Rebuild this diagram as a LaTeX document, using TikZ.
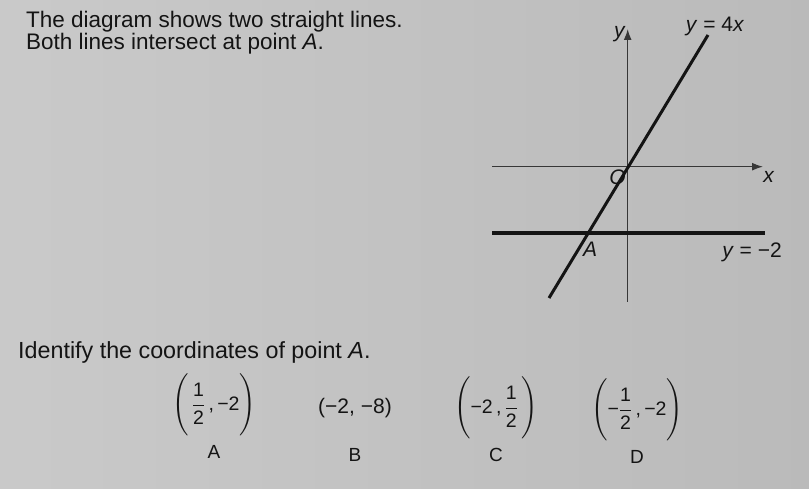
\documentclass[tikz,border=0pt]{standalone}
\usepackage{amsmath}
\usepackage{fontspec}
\setmainfont{Liberation Sans}
\usetikzlibrary{arrows.meta}
\definecolor{ink}{HTML}{141414}
\tikzstyle{every node}=[inner sep=0pt,text=ink]
\tikzstyle{axis}=[draw=ink!85,
                  line width=1.4pt
                  ]
\tikzstyle{graphline}=[draw=ink,
                       line width=3pt
                       ]
\tikzstyle{label}=[anchor=base,
                   font=\fontsize{21}{25}\selectfont
                   ]
\tikzstyle{question}=[anchor=base west,
                      font=\fontsize{22.5}{27}\selectfont
                      ]
\tikzstyle{answer}=[font=\fontsize{19.5}{24}\selectfont]
\tikzstyle{letter}=[font=\fontsize{19}{23}\selectfont]

\begin{document}
\begin{tikzpicture}[x=1pt,y=1pt,node distance=141pt,>={Latex[length=11pt,width=8pt]}]
\useasboundingbox (0,0) rectangle (809,488);
\shade[left color=black!21,middle color=black!8,right color=black!27] (0,0) rectangle (809,488);

% question text
\node (Line_1) [question] at (26,460) {The diagram shows two straight lines.};
\node (Line_2) [question] at (26,438) {Both lines intersect at point \textit{A}.};
\node (Ask)    [question,font=\fontsize{23.3}{27}\selectfont] at (18,130) {Identify the coordinates of point \textit{A}.};

% graph
\coordinate (O)       at (627.7,321.3);
\coordinate (y_bot)   at (627.7,186);
\coordinate (y_top)   at (627.7,459);
\coordinate (x_left)  at (492,321.3);
\coordinate (x_right) at (763,321.3);
\coordinate (L_bot)   at (549,190);
\coordinate (L_top)   at (708,453);
\coordinate (H_left)  at (492,255);
\coordinate (H_right) at (765,255);
\draw[axis,->] (y_bot) -- (y_top);
\draw[axis,->] (x_left) -- (x_right);
\draw[graphline] (L_bot) -- (L_top);
\draw[graphline,line width=3.6pt] (H_left) -- (H_right);
\node (Lab_y)  [label] at (620,450) {\textit{y}};
\node (Lab_L)  [label] at (715,456) {\textit{y} = 4\textit{x}};
\node (Lab_x)  [label] at (769,305) {\textit{x}};
\node (Lab_O)  [label] at (617.5,303) {\textit{O}};
\node (Lab_A)  [label] at (590,231) {\textit{A}};
\node (Lab_H)  [label] at (752,230) {\textit{y} = −2};

% answers
\node (Opt_A) [answer] at (214,83) {$\Biggl(\,\dfrac{\text{1}}{\text{2}}\,\text{,\,−2}\Biggr)$};
\node (Opt_B) [answer,right of=Opt_A,yshift=-3pt,font=\fontsize{21}{25}\selectfont] {(−2, −8)};
\node (Opt_C) [answer,right of=Opt_B] {$\Biggl(\text{−2\,,\,}\dfrac{\text{1}}{\text{2}}\,\Biggr)$};
\node (Opt_D) [answer,right of=Opt_C,yshift=-2pt] {$\Biggl(\text{−}\dfrac{\text{1}}{\text{2}}\,\text{,\,−2}\Biggr)$};
\node (Let_A) [letter,below of=Opt_A,node distance=47pt] {A};
\node (Let_B) [letter,below of=Opt_B,node distance=47pt] {B};
\node (Let_C) [letter,below of=Opt_C,node distance=47pt] {C};
\node (Let_D) [letter,below of=Opt_D,node distance=47pt] {D};
\end{tikzpicture}
\end{document}
